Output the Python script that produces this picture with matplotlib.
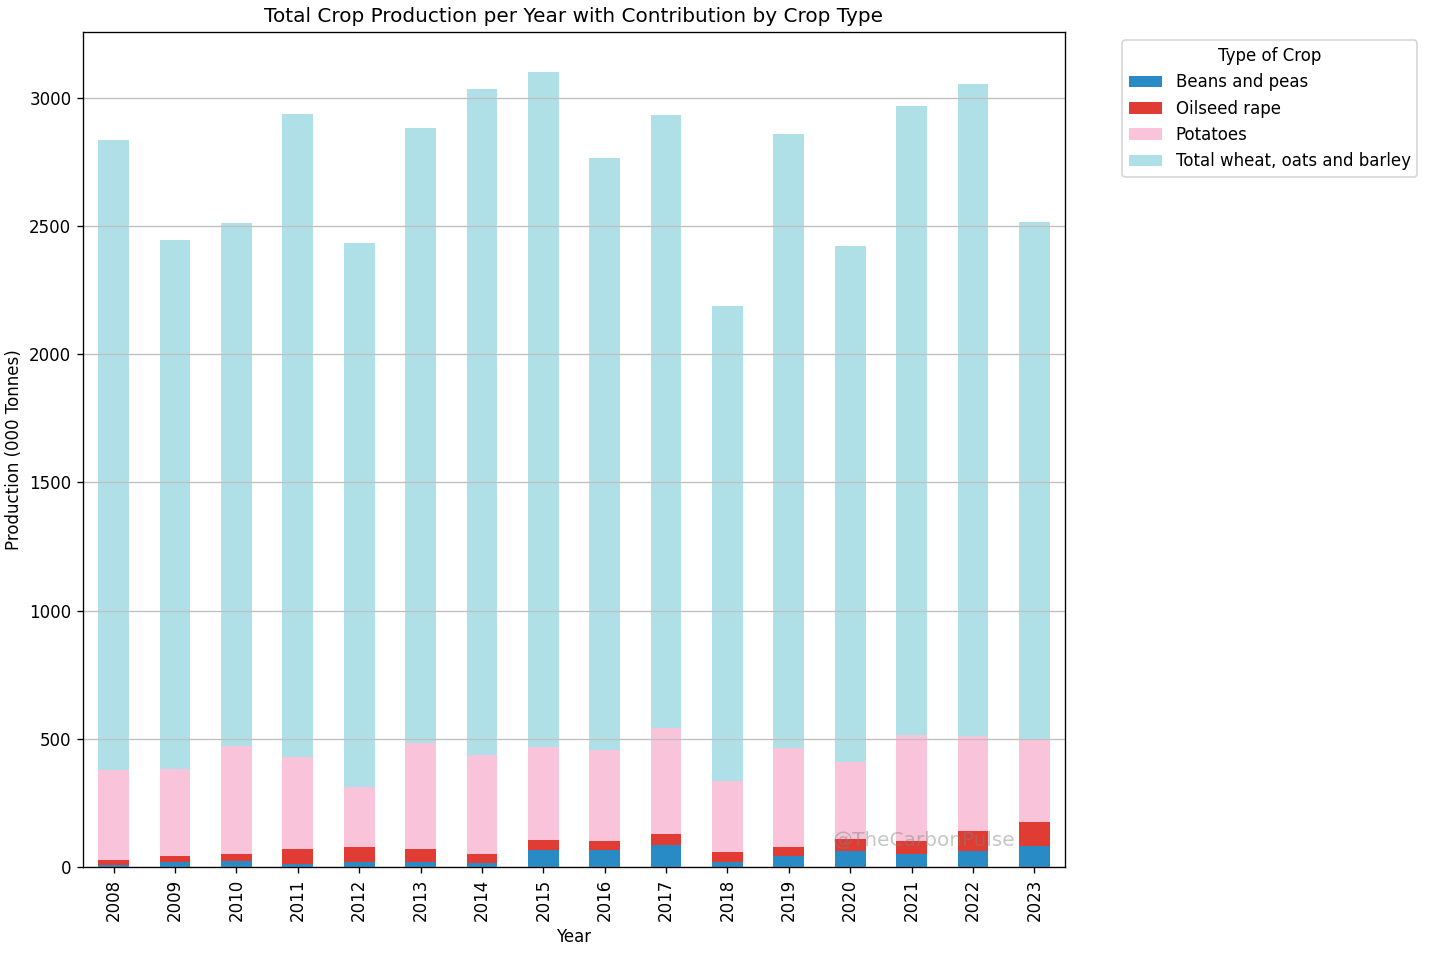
"""Stacked bar chart of crop production per year by crop type."""

import pandas as pd
import matplotlib.pyplot as plt

years = list(range(2008, 2024))

# per-crop values (000 tonnes)
beans_peas = [8, 20, 25, 12, 18, 20, 17, 66, 66, 87, 20, 42, 64, 51, 62, 81]
oilseed_rape = [21, 23, 26, 58, 60, 50, 34, 39, 37, 42, 39, 37, 44, 52, 80, 95]
potatoes = [349, 339, 421, 359, 234, 413, 386, 363, 353, 413, 276, 385, 302, 412, 369, 323]
cereals = [2458, 2064, 2040, 2508, 2122, 2400, 2598, 2633, 2310, 2392, 1853, 2395, 2013, 2454, 2543, 2017]

crop_types = ["Beans and peas", "Oilseed rape", "Potatoes", "Total wheat, oats and barley"]
colors = ["#288bc6", "#e13c33", "#f9c3d9", "#afe0e8"]


def main() -> None:
    dat = pd.DataFrame(
        {
            crop_types[0]: beans_peas,
            crop_types[1]: oilseed_rape,
            crop_types[2]: potatoes,
            crop_types[3]: cereals,
        },
        index=years,
    )

    fig, ax = plt.subplots(figsize=(12, 955 / 120), dpi=120)
    fig.subplots_adjust(left=83 / 1440, right=1065 / 1440, top=1 - 32 / 955, bottom=1 - 867 / 955)

    dat.plot(kind="bar", stacked=True, color=colors, ax=ax)

    ax.set_title("Total Crop Production per Year with Contribution by Crop Type")
    ax.set_xlabel("Year")
    ax.set_ylabel("Production (000 Tonnes)")
    ax.grid(axis="y", color="#c0c0c0")
    ax.legend(title="Type of Crop", bbox_to_anchor=(1.05, 1), loc="upper left")

    ax.text(0.949, 0.02, "@TheCarbonPulse", transform=ax.transAxes, fontsize=12,
            color="gray", alpha=0.45, ha="right", va="bottom")

    fig.savefig("out.png", dpi=120)


if __name__ == "__main__":
    main()
